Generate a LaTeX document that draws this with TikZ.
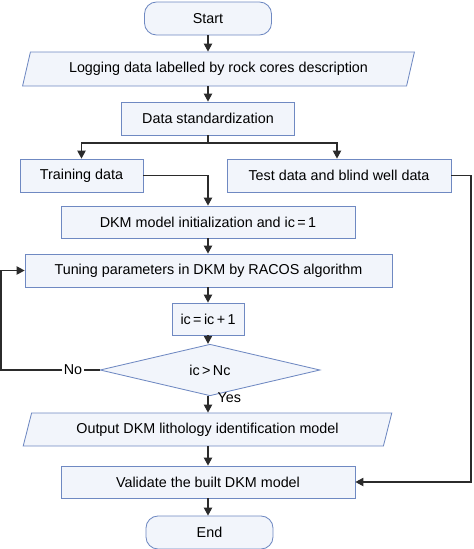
\documentclass[tikz,border=0pt]{standalone}
\usepackage{fontspec}
\setmainfont{Liberation Sans}
\usetikzlibrary{arrows.meta,shapes.geometric}
\definecolor{borde}{HTML}{6F89C2}
\definecolor{relleno}{HTML}{F2F5FB}
\definecolor{linea}{HTML}{2B2B2B}
\tikzset{
  >={Triangle[length=2mm, width=2.1mm]},
  flecha/.style={->, line width=0.8pt, draw=linea},
  hilo/.style={line width=0.8pt, draw=linea},
  base/.style={draw=borde, fill=relleno, line width=0.6pt, inner sep=0pt,
    font=\fontsize{10.2}{12}\selectfont},
  caja/.style={base, rectangle},
  terminal/.style={base, rectangle, rounded corners=3mm},
  datos/.style={base, trapezium, trapezium left angle=65, trapezium right angle=115,
    trapezium stretches=true},
  decision/.style={base, diamond},
  rotulo/.style={inner sep=1pt, font=\fontsize{10.2}{12}\selectfont},
}
\begin{document}
\begin{tikzpicture}[x=0.25mm, y=-0.25mm]
  \useasboundingbox (0,0) rectangle (474,549);
  \node[terminal, minimum width=31.75mm, minimum height=8.25mm] (inicio) at (208,18.5) {Start};
  \node[datos, minimum width=98.25mm, minimum height=8.5mm] (registro) at (218.5,69) {Logging data labelled by rock cores description};
  \node[caja, minimum width=43.25mm, minimum height=8.25mm] (estandar) at (208,118.5) {Data standardization};
  \node[caja, minimum width=30.75mm, minimum height=8.25mm] (entreno) at (81.5,175.5) {Training data};
  \node[caja, minimum width=56mm, minimum height=8.25mm] (prueba) at (339,175.5) {Test data and blind well data};
  \node[caja, minimum width=73.5mm, minimum height=8mm] (init) at (208,222) {DKM model initialization and ic\,=\,1};
  \node[caja, minimum width=91.75mm, minimum height=8.25mm] (ajuste) at (208.5,270.5) {Tuning parameters in DKM by RACOS algorithm};
  \node[caja, minimum width=18mm, minimum height=8mm] (incr) at (208,319) {ic\,=\,ic\,+\,1};
  \node[decision, minimum width=55mm, minimum height=8mm] (cond) at (210,370) {ic\,>\,Nc};
  \node[datos, minimum width=92.25mm, minimum height=8.25mm] (salida) at (207.5,429.5) {Output DKM lithology identification model};
  \node[caja, minimum width=73.5mm, minimum height=8mm] (valida) at (208,482) {Validate the built DKM model};
  \node[terminal, minimum width=31.75mm, minimum height=8.25mm] (fin) at (209.5,532.5) {End};
  \node[rotulo, fill=white] (no) at (73,370) {No};
  \node[rotulo, anchor=west] (si) at (216,398) {Yes};
  \coordinate (rama) at (208,143);
  \coordinate (izq) at (1,270.5);
  \coordinate (der) at (471,175.5);

  \draw[flecha] (inicio.south) -- (inicio.south |- registro.north);
  \draw[flecha] (estandar.north |- registro.south) -- (estandar.north);
  \draw[hilo] (estandar.south) -- (rama);
  \draw[flecha] (rama) -| (entreno.north);
  \draw[flecha] (rama) -| ([xshift=-0.5mm]prueba.north);
  \draw[flecha] (entreno.east) -| (init.north);
  \draw[flecha] (init.south) -- (init.south |- ajuste.north);
  \draw[flecha] (incr.north |- ajuste.south) -- (incr.north);
  \draw[flecha] (incr.south) -- (incr.south |- cond.north);
  \draw[flecha] (incr.south |- cond.south) -- (incr.south |- salida.north);
  \draw[hilo] (cond.west) -- (no.east);
  \draw[flecha] (no.west) -| (izq) -- (ajuste.west);
  \draw[flecha] (valida.north |- salida.south) -- (valida.north);
  \draw[flecha] (valida.south) -- (valida.south |- fin.north);
  \draw[flecha] (prueba.east) -- (der) |- (valida.east);
\end{tikzpicture}
\end{document}
